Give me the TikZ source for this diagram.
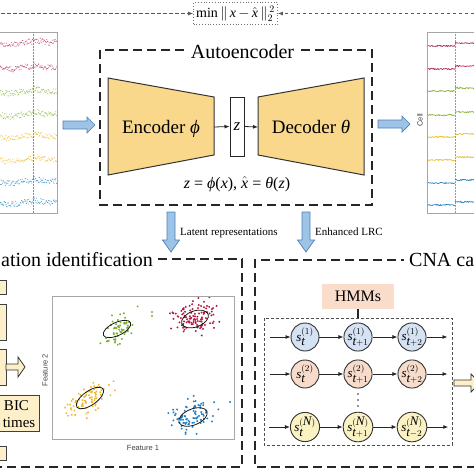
\documentclass[tikz,border=0pt]{standalone}
\usepackage{fontspec}
\setmainfont{Liberation Serif}
\newfontfamily\sansf{Liberation Sans}
\usetikzlibrary{arrows.meta}
\definecolor{encfill}{HTML}{F9D88C}
\definecolor{barrowfill}{HTML}{9DC3E6}
\definecolor{barrowdraw}{HTML}{4F7FB3}
\definecolor{ybox}{HTML}{FDF0C8}
\definecolor{crim}{HTML}{B3305C}
\definecolor{grn}{HTML}{8AB33C}
\definecolor{yel}{HTML}{E9BE33}
\definecolor{blu}{HTML}{3087C2}
\definecolor{cgrn}{HTML}{7BAE2E}
\definecolor{cred}{HTML}{B8163F}
\definecolor{cyel}{HTML}{EDB828}
\definecolor{cblu}{HTML}{1F80C0}
\definecolor{hmmfill}{HTML}{FADCCB}
\definecolor{cblue}{HTML}{D5E2F4}
\definecolor{cpeach}{HTML}{F8DCCB}
\definecolor{cyellow}{HTML}{FAF2C2}
\newcommand\mycluster[7]{%
  \begin{scope}[shift={(#1,#2)},rotate=#3]
    \foreach \i in {1,...,#6}{%
      \pgfmathsetmacro\uu{#4*(rand+rand+rand)/1.7}%
      \pgfmathsetmacro\vv{#5*(rand+rand+rand)/1.7}%
      \fill[#7] (\uu,\vv) circle (1.1);
    }
  \end{scope}}
\begin{document}
\begin{tikzpicture}[x=1pt,y=-1pt,
  arr/.style={-{Latex[length=5pt,width=4pt]}, line width=0.8pt, draw=black!85},
  lossarr/.style={-{Latex[length=5pt,width=4pt]}, line width=0.8pt, draw=black!65, dash pattern=on 3.5pt off 2.5pt},
  bigbox/.style={draw=black!85, line width=1.3pt, dash pattern=on 9pt off 5pt},
  trap/.style={fill=encfill, draw=black!80, line width=1pt},
  barrow/.style={fill=barrowfill, draw=barrowdraw, line width=0.7pt},
  yarrow/.style={fill=ybox, draw=black!80, line width=0.8pt},
  ysmall/.style={fill=ybox, draw=black!75, line width=0.8pt},
  titletext/.style={font=\fontsize{20}{24}\selectfont, fill=white, inner xsep=6pt, inner ysep=1pt},
  bigtext/.style={font=\fontsize{19}{22}\selectfont},
  axlabel/.style={font=\sansf\fontsize{7.5}{9}\selectfont, text=black!75},
  state/.style={circle, draw=black!80, line width=0.9pt, minimum size=28pt, inner sep=0pt, font=\fontsize{13}{14}\selectfont},
  frame/.style={draw=black!35, line width=0.6pt},
]
\useasboundingbox (0,0) rectangle (474,474);
\clip (0,0) rectangle (474,474);
\pgfmathsetseed{7}

% ---------- loss box ----------
\node[draw=black!55, dotted, line width=0.8pt, minimum width=84pt, minimum height=22pt, inner sep=1pt,
      font=\fontsize{14}{16}\selectfont] (loss) at (235.5,13.5)
      {min\,$\|$\,\textit{x}\,$-$\,$\hat{\textit{x}}$\,$\|_2^{\,2}$};
\coordinate (lossL) at (-5,13.5);
\coordinate (lossR) at (480,13.5);
\draw[lossarr] (lossL) -- (loss.west);
\draw[lossarr] (lossR) -- (loss.east);

% ---------- input plot (left) ----------
\draw[frame] (-5,32) -- (57,32) -- (57,213) -- (-5,213);
\draw[black!45, densely dotted, line width=0.5pt] (33,32) -- (33,213);
\foreach \yy/\c in {43/crim,68/crim,92/grn,115/grn,137/yel,160/yel,182/blu,203/blu}{
  \foreach \xx in {0,0.6,...,56.5}{
    \pgfmathsetmacro\dy{\yy + 2.8*rand + 1.5*sin(\xx*9) - (\xx>33 ? 2 : 0)}
    \fill[\c, opacity=0.8] (\xx,\dy) circle (0.55);
  }
}
\coordinate (inpE) at (57,125);

% ---------- blue arrow to autoencoder ----------
\filldraw[barrow] (63,121) -- (87,121) -- (87,117) -- (95,125) -- (87,133) -- (87,129) -- (63,129) -- cycle;

% ---------- autoencoder ----------
\draw[bigbox] (100,50) rectangle (372,205);
\node[titletext, anchor=base] (aetitle) at (242.5,58) {Autoencoder};
\filldraw[trap] (108,78) -- (214,97) -- (214,155) -- (108,175) -- cycle;
\filldraw[trap] (258,97) -- (364,78) -- (364,175) -- (258,155) -- cycle;
\node[bigtext, anchor=base] (enc) at (161,133) {Encoder \textit{ϕ}};
\node[bigtext, anchor=base] (dec) at (311,133) {Decoder \textit{θ}};
\coordinate (encR) at (214,127);
\coordinate (decL) at (258,127);
\node[draw=black!85, line width=1pt, minimum width=14pt, minimum height=59pt, inner sep=0pt,
      font=\fontsize{17}{18}\selectfont] (zb) at (237,126.5) {\textit{z}};
\draw[arr] (encR) -- (zb.west);
\draw[arr] (zb.east) -- (decL);
\node[font=\fontsize{16}{18}\selectfont, anchor=base] (formula) at (237,188)
  {\textit{z} = \textit{ϕ}(\textit{x}), $\hat{\textit{x}}$ = \textit{θ}(\textit{z})};

% ---------- blue arrow to output ----------
\filldraw[barrow] (378,120) -- (402,120) -- (402,116) -- (410,124) -- (402,132) -- (402,128) -- (378,128) -- cycle;

% ---------- output plot (right) ----------
\node[axlabel, rotate=90] (cell) at (420,120) {Cell};
\draw[frame] (480,32) -- (427,32) -- (427,213) -- (480,213);
\draw[black!40, densely dotted, line width=0.5pt] (455,32) -- (455,213);
\foreach \yy/\c in {46/crim,69/crim,91/grn,115/grn,137/yel,160/yel,183/blu,205/blu}{
  \draw[\c, line width=0.75pt] plot[domain=428:455, samples=34] (\x, {\yy+0.7*rand});
  \draw[\c, line width=0.75pt] plot[domain=455:476, samples=26] (\x, {\yy-3+0.7*rand});
}

% ---------- down arrows ----------
\filldraw[barrow] (167,212) -- (175,212) -- (175,240) -- (179.5,240) -- (171,252) -- (162.5,240) -- (167,240) -- cycle;
\node[font=\fontsize{11}{13}\selectfont, anchor=base west, inner sep=0pt] (lat) at (180,235) {Latent representations};
\filldraw[barrow] (302,212) -- (310,212) -- (310,240) -- (314.5,240) -- (306,252) -- (297.5,240) -- (302,240) -- cycle;
\node[font=\fontsize{11}{13}\selectfont, anchor=base west, inner sep=0pt] (lrc) at (315,235) {Enhanced LRC};

% ---------- subpopulation identification box ----------
\draw[bigbox] (-10,259) -- (242,259) -- (242,467) -- (-10,467);
\node[titletext, anchor=base east, inner xsep=5pt] (sititle) at (158,266) {ation identification};

\filldraw[ysmall] (-5,280) rectangle (6,294);
\filldraw[ysmall] (-5,304) rectangle (6,340);
\filldraw[ysmall] (-5,349) rectangle (6,385);
\filldraw[ysmall] (-5,395) rectangle (39,431);
\filldraw[ysmall] (-5,446) rectangle (6,460);
\node[font=\fontsize{15}{16}\selectfont, anchor=base] (bic) at (16.5,410) {BIC};
\node[font=\fontsize{15}{16}\selectfont, anchor=base] (times) at (19,427) {times};
\filldraw[yarrow] (6,364) -- (18,364) -- (18,357) -- (25,367) -- (18,377) -- (18,370) -- (6,370) -- cycle;

% scatter plot
\draw[frame] (52,296) rectangle (234,439);
\node[axlabel, rotate=90] (f2) at (45,370) {Feature 2};
\node[axlabel] (f1) at (143,448) {Feature 1};
\begin{scope}
\clip (53,297) rectangle (233,438);
\mycluster{117}{329}{25}{19}{10}{60}{cgrn}
\mycluster{195}{319}{15}{22}{13}{110}{cred}
\mycluster{90}{398}{35}{23}{10}{85}{cyel}
\mycluster{193}{416}{20}{22}{13}{85}{cblu}
\end{scope}
\fill[cgrn] (152,312) circle (1.1);
\fill[cgrn] (152,316) circle (1.1);
\fill[cblu] (230,402) circle (1.1);
\draw[black!90, line width=0.8pt, rotate around={25:(117,329)}] (117,329) ellipse (15 and 6.5);
\draw[black!90, line width=0.8pt, rotate around={20:(195,319)}] (195,319) ellipse (14 and 8);
\draw[black!90, line width=0.8pt, rotate around={35:(90,398)}] (90,398) ellipse (16 and 7);
\draw[black!90, line width=0.8pt, rotate around={22:(193,417)}] (193,417) ellipse (15 and 8);

% ---------- CNA calling box ----------
\draw[bigbox] (480,260) -- (255,260) -- (255,467) -- (480,467);
\node[titletext, anchor=base west, inner xsep=5pt] (cnatitle) at (404,266) {CNA ca};

\node[fill=hmmfill, minimum width=72pt, minimum height=25pt, inner sep=0pt,
      font=\fontsize{16}{18}\selectfont] (hmm) at (358,296.5) {HMMs};
\draw[draw=black!70, line width=0.7pt, dash pattern=on 3pt off 2pt] (264,318) rectangle (452,445);
\coordinate (hmmtop) at (358,318);
\draw[black!85, line width=1.5pt] (hmm.south) -- (hmmtop);

\node[state, fill=cblue] (c11) at (305,337) {$\textit{s}_{\textit{t}}^{(1)}$};
\node[state, fill=cblue] (c12) at (358,337) {$\textit{s}_{\textit{t}+1}^{(1)}$};
\node[state, fill=cblue] (c13) at (412,337) {$\textit{s}_{\textit{t}+2}^{(1)}$};
\node[state, fill=cpeach] (c21) at (305,374) {$\textit{s}_{\textit{t}}^{(2)}$};
\node[state, fill=cpeach] (c22) at (358,374) {$\textit{s}_{\textit{t}+1}^{(2)}$};
\node[state, fill=cpeach] (c23) at (412,374) {$\textit{s}_{\textit{t}+2}^{(2)}$};
\node[state, fill=cyellow] (c31) at (305,427) {$\textit{s}_{\textit{t}}^{(\textit{N})}$};
\node[state, fill=cyellow] (c32) at (358,427) {$\textit{s}_{\textit{t}+1}^{(\textit{N})}$};
\node[state, fill=cyellow] (c33) at (412,427) {$\textit{s}_{\textit{t}-2}^{(\textit{N})}$};
\foreach \dd in {394,400,406}{\fill[black!85] (358,\dd) circle (0.9);}
\foreach \r in {1,2,3}{
  \path (c\r1.west) ++(-21,0) coordinate (in\r);
  \path (c\r3.east) ++(21,0) coordinate (out\r);
  \draw[arr] (in\r) -- (c\r1);
  \draw[arr] (c\r1) -- (c\r2);
  \draw[arr] (c\r2) -- (c\r3);
  \draw[arr] (c\r3) -- (out\r);
}
\filldraw[yarrow] (454,380) -- (471,380) -- (471,374) -- (480,383) -- (471,392) -- (471,386) -- (454,386) -- cycle;
\end{tikzpicture}
\end{document}
